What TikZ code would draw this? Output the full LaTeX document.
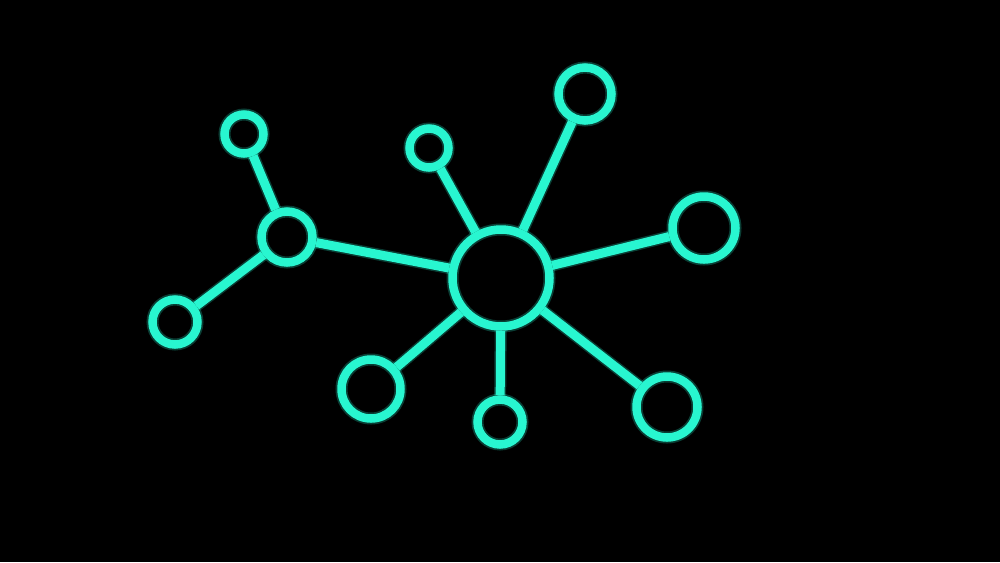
\documentclass[tikz,border=0pt]{standalone}
\usepackage{tikz}
\usetikzlibrary{positioning}
\definecolor{aqua}{RGB}{40,246,208}

\begin{document}
\begin{tikzpicture}[
    x=0.02cm, y=-0.02cm,
    glow/.style={preaction={draw=aqua, line width=0.24cm, opacity=0.25}},
    dot/.style={circle, draw=aqua, line width=0.17cm, inner sep=0pt, minimum size=#1*0.02cm, glow},
    link/.style={draw=aqua, line width=0.18cm, glow}
]
    \fill [black] (0,0) rectangle (1000,562);

    \node [dot=97] (center) at (501,278) {};
    \node [dot=53] (topright) at (585,94) {};
    \node [dot=39] (top) at (429,148) {};
    \node [dot=63] (right) at (704,228) {};
    \node [dot=61] (lowright) at (667,407) {};
    \node [dot=45] (bottom) at (500,422) {};
    \node [dot=59] (lowleft) at (371,389) {};
    \node [dot=51] (hub) at (287,237) {};
    \node [dot=39] (hubtop) at (244,134) {};
    \node [dot=45] (hubleft) at (175,322) {};

    \draw [link] (center) -- (topright);
    \draw [link] (center) -- (top);
    \draw [link] (center) -- (right);
    \draw [link] (center) -- (lowright);
    \draw [link] (center) -- (bottom);
    \draw [link] (center) -- (lowleft);
    \draw [link] (center) -- (hub);
    \draw [link] (hub) -- (hubtop);
    \draw [link] (hub) -- (hubleft);
\end{tikzpicture}
\end{document}
